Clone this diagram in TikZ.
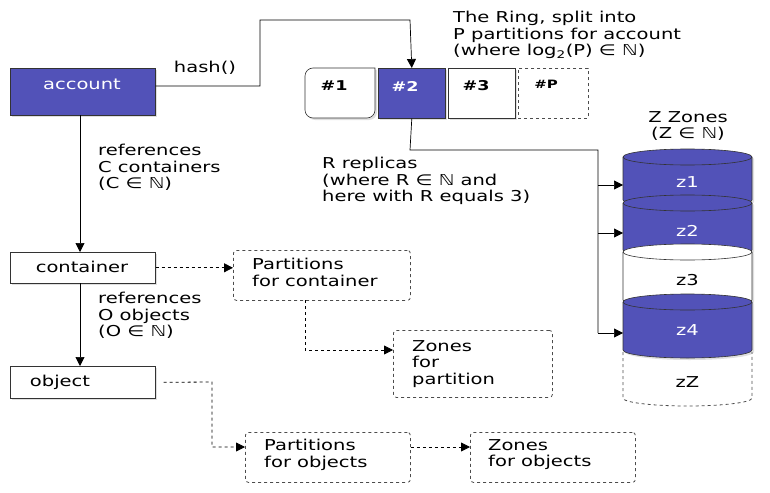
\documentclass[tikz,border=0pt]{standalone}
\usepackage{fontspec}
\setmainfont{DejaVu Sans}[FakeStretch=1.3]
\usetikzlibrary{arrows.meta,shadows}
\definecolor{blu}{HTML}{5252B8}
\begin{document}
\begin{tikzpicture}[x=1pt,y=-1pt,font=\fontsize{15}{16.5}\selectfont,
 box/.style={draw=black!80,line width=0.6pt,drop shadow={opacity=0.25,shadow xshift=2pt,shadow yshift=-2pt}},
 dbox/.style={draw=black!70,dashed,line width=0.8pt,rounded corners=3pt},
 arr/.style={-{Triangle[length=9pt,width=9pt]},line width=0.7pt},
 darr/.style={arr,dashed,line width=0.8pt},
 lbl/.style={align=left,anchor=north west,inner sep=0pt},
 num/.style={font=\fontsize{13.5}{15}\selectfont\bfseries},
 cyl/.style={draw=black!80,line width=0.6pt}]
\useasboundingbox (0,0) rectangle (770,492);
% account
\node[box,fill=blu,minimum width=145pt,minimum height=47pt,anchor=north west] (acc) at (10,68) {};
\node[text=white] at (82,84) {account};
\node[box,fill=white,minimum width=145pt,minimum height=31pt,anchor=north west] (con) at (10,252) {};
\node at (82,267) {container};
\node[box,fill=white,minimum width=145pt,minimum height=32pt,anchor=north west] (obj) at (10,366) {};
\node at (60,382) {object};
% ring
\path[box,fill=white,rounded corners=8pt] (375,68) -- (305,68) -- (305,118) -- (375,118) [sharp corners] -- cycle;
\node[box,fill=blu,minimum width=67pt,minimum height=50pt,anchor=north west] (p2) at (378,68) {};
\node[box,fill=white,minimum width=67pt,minimum height=50pt,anchor=north west] (p3) at (448,68) {};
\node[dbox,rounded corners=0pt,minimum width=70pt,minimum height=50pt,anchor=north west] (pP) at (518,68) {};
\node[num] (t1) at (334,86) {\#1};
\node[num,text=white] (t2) at (405,86) {\#2};
\node[num] (t3) at (476,86) {\#3};
\node[num,font=\fontsize{11.5}{13}\selectfont\bfseries] (tP) at (546,84) {\#P};
\node[lbl] (ring) at (453,11) {The Ring, split into\\P partitions for account\\(where log\textsubscript{2}(P) ∈ ℕ)};
\node (hash) at (205,68) {hash()};
\coordinate (a1) at (260,86); \coordinate (a2) at (260,20); \coordinate (a3) at (410,20);
\draw[arr] (acc.east |- a1) -- (a1) -- (a2) -- (a3) -- (p2.north);
% cylinders
\def\cx{623}\def\cw{129}\def\ry{8}
\foreach \t/\b/\f/\tx/\tc [count=\i] in {157/200/blu/z1/white,203/250/blu/z2/white,252/300/white/z3/black,302/350/blu/z4/white}{
 \path[cyl,fill=\f,drop shadow={opacity=0.25,shadow xshift=2pt,shadow yshift=-2pt}] (\cx,\t) -- (\cx,\b) arc[x radius=64.5pt,y radius=\ry pt,start angle=180,end angle=360] -- (\cx+\cw,\t) arc[x radius=64.5pt,y radius=\ry pt,start angle=0,end angle=180] -- cycle;
 \draw[cyl] (\cx,\t) arc[x radius=64.5pt,y radius=\ry pt,start angle=180,end angle=360];
 \node[text=\tc] (z\i) at (687.5,{(\t+\b)/2+4}) {\tx};
}
\draw[dbox,rounded corners=0pt] (\cx,352) -- (\cx,398) arc[x radius=64.5pt,y radius=\ry pt,start angle=180,end angle=360] -- (\cx+\cw,352);
\node (zZ) at (687.5,382) {zZ};
\node[align=center,inner sep=0pt] (zones) at (688,126) {Z Zones\\(Z ∈ ℕ)};
\coordinate (r1) at (410,150); \coordinate (r2) at (598,150);
\draw[line width=0.7pt] (p2.south) -- (r1) -- (r2) -- (598,333);
\draw[arr] (598,185) -- (\cx,185);
\draw[arr] (598,233) -- (\cx,233);
\draw[arr] (598,333) -- (\cx,333);
\node[lbl] (rep) at (322,157) {R replicas\\(where R ∈ ℕ and\\here with R equals 3)};
% left chain
\draw[arr] (80,115) -- (80,252);
\node[lbl] (refc) at (98,144) {references\\C containers\\(C ∈ ℕ)};
\draw[arr] (80,283) -- (80,366);
\node[lbl] (refo) at (98,292) {references\\O objects\\(O ∈ ℕ)};
% dashed boxes
\node[dbox,minimum width=177pt,minimum height=50pt,anchor=north west] (pc) at (233,250) {};
\node[lbl] at (252,258) {Partitions\\for container};
\node[dbox,minimum width=159pt,minimum height=67pt,anchor=north west] (zp) at (393,330) {};
\node[lbl] at (412,340) {Zones\\for\\partition};
\node[dbox,minimum width=165pt,minimum height=50pt,anchor=north west] (po) at (245,432) {};
\node[lbl] at (264,439) {Partitions\\for objects};
\node[dbox,minimum width=165pt,minimum height=50pt,anchor=north west] (zo) at (470,432) {};
\node[lbl] at (488,439) {Zones\\for objects};
\draw[darr] (con.east) -- (pc.west |- con.east);
\draw[darr] (305,300) -- (305,350) -- (zp.west |- 0,350);
\draw[darr] (obj.east) ++(8,0) -- (212,382) -- (212,447) -- (po.west |- 0,447);
\draw[darr] (po.east |- 0,447) -- (zo.west |- 0,447);
\end{tikzpicture}
\end{document}
